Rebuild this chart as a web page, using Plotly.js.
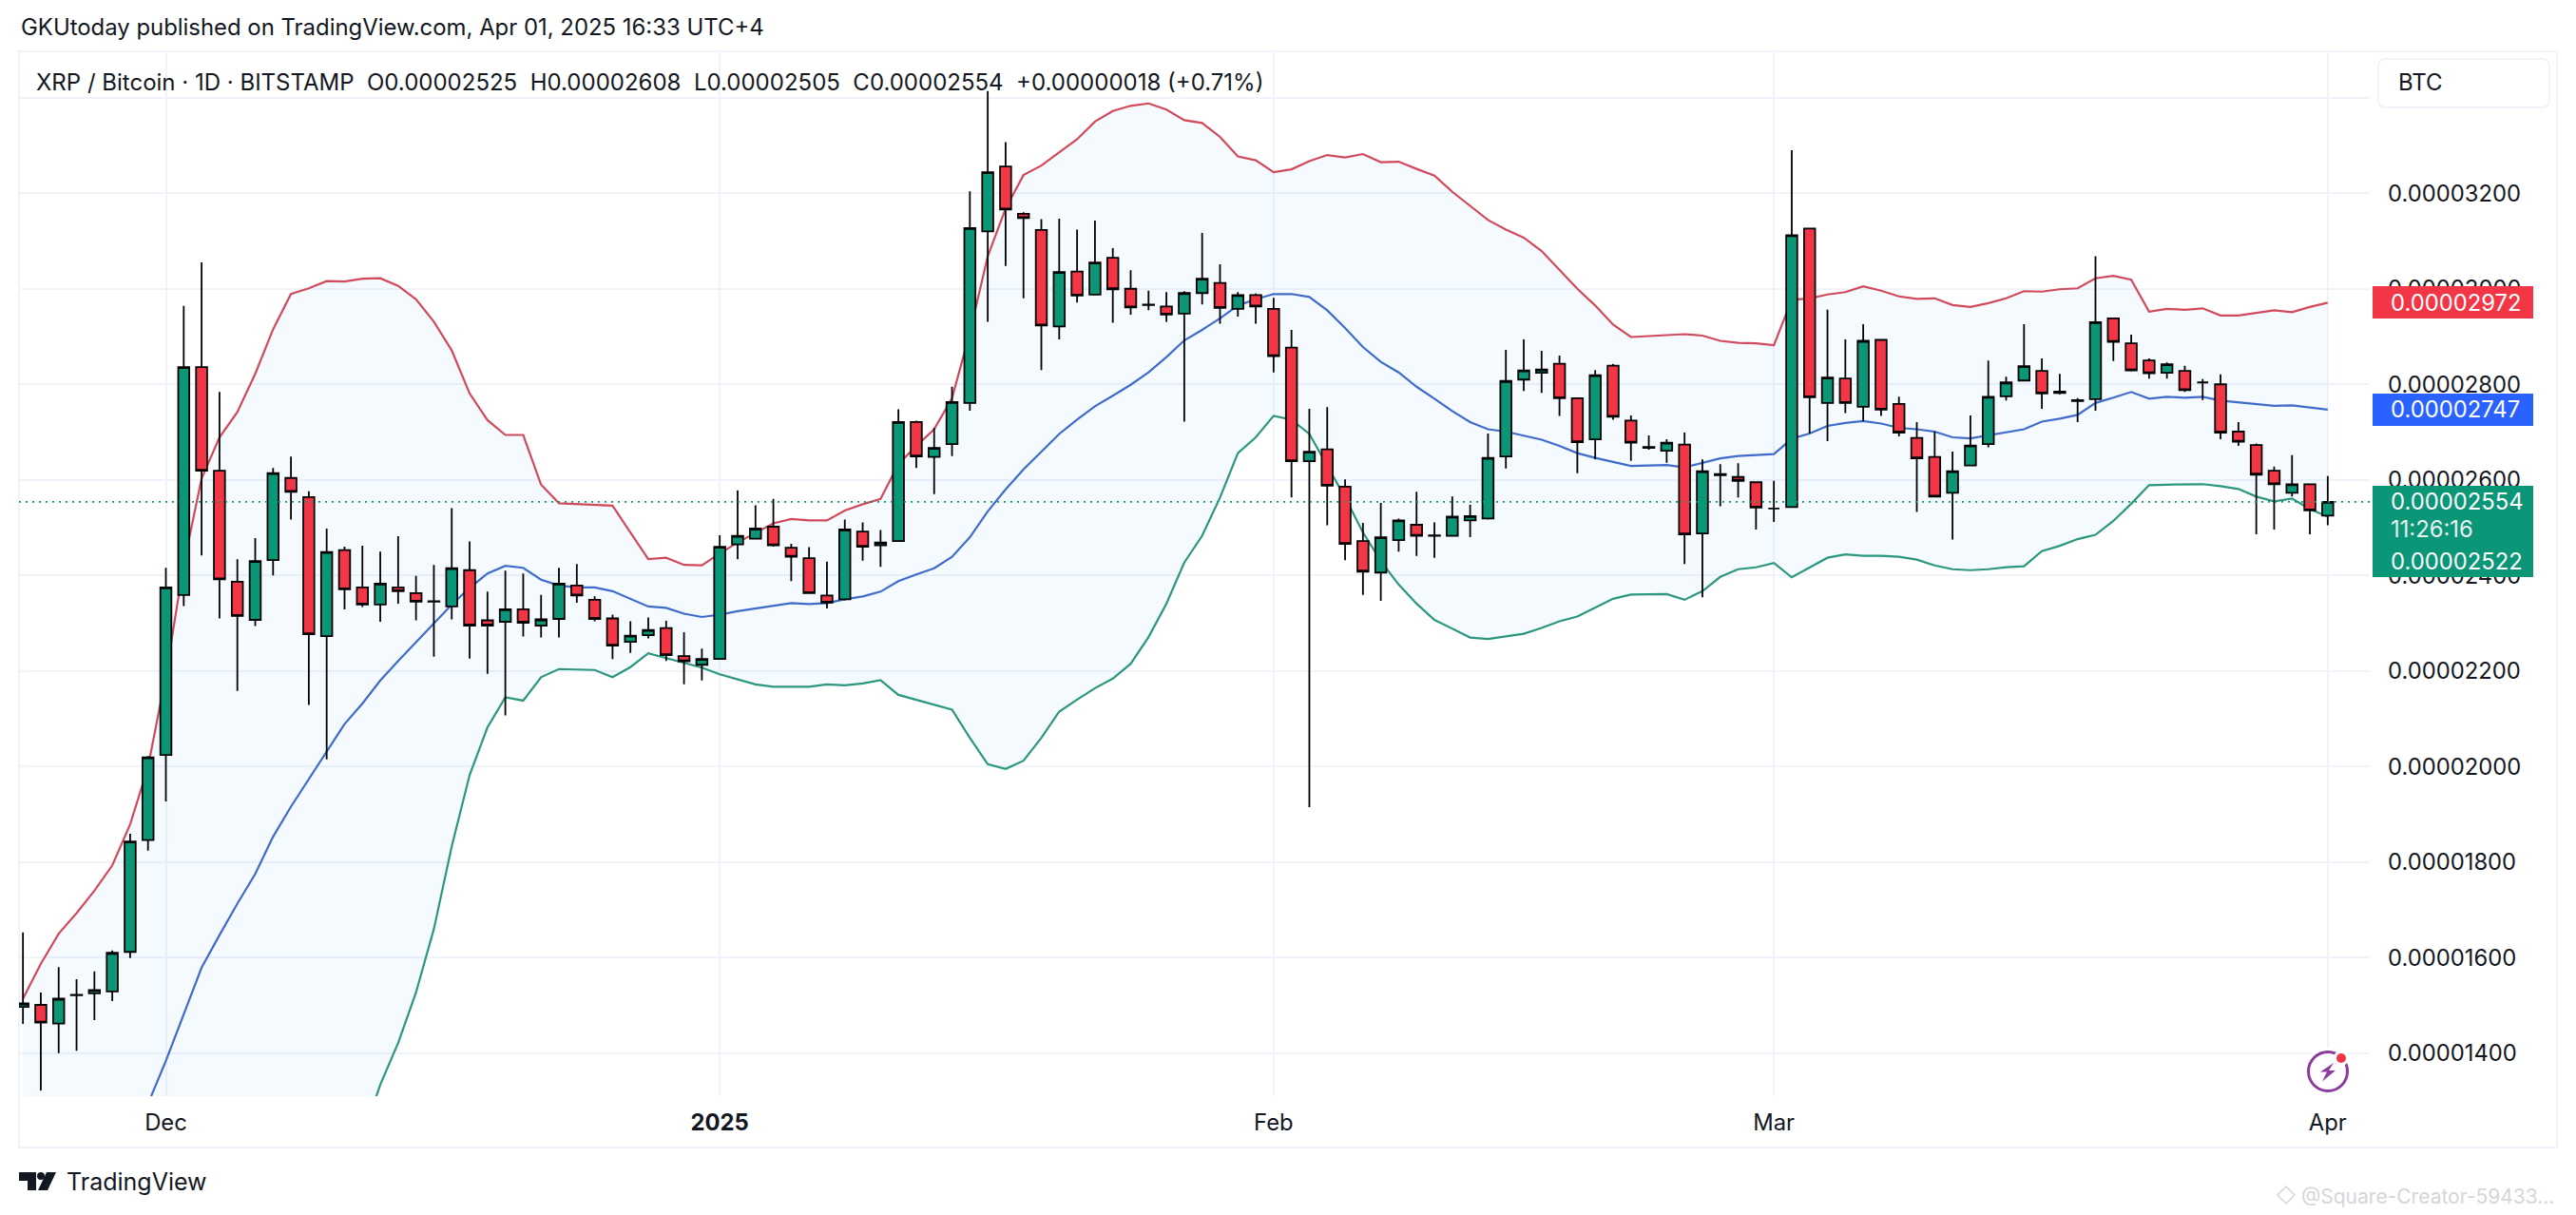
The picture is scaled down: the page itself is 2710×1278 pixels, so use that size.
<!DOCTYPE html>
<html>
<head>
<meta charset="utf-8">
<script src="https://cdn.plot.ly/plotly-3.0.1.min.js"></script>
<style>
  html, body { margin: 0; padding: 0; background: #fff; }
  #plot { width: 2710px; height: 1278px; }
</style>
</head>
<body>
<div id="plot"></div>
<script>
// XRP / Bitcoin daily candles, values in 1e-8 BTC
const dates = [
  "2024-11-23","2024-11-24","2024-11-25","2024-11-26","2024-11-27","2024-11-28","2024-11-29","2024-11-30",
  "2024-12-01","2024-12-02","2024-12-03","2024-12-04","2024-12-05","2024-12-06","2024-12-07","2024-12-08","2024-12-09","2024-12-10","2024-12-11","2024-12-12","2024-12-13","2024-12-14","2024-12-15","2024-12-16","2024-12-17","2024-12-18","2024-12-19","2024-12-20","2024-12-21","2024-12-22","2024-12-23","2024-12-24","2024-12-25","2024-12-26","2024-12-27","2024-12-28","2024-12-29","2024-12-30","2024-12-31",
  "2025-01-01","2025-01-02","2025-01-03","2025-01-04","2025-01-05","2025-01-06","2025-01-07","2025-01-08","2025-01-09","2025-01-10","2025-01-11","2025-01-12","2025-01-13","2025-01-14","2025-01-15","2025-01-16","2025-01-17","2025-01-18","2025-01-19","2025-01-20","2025-01-21","2025-01-22","2025-01-23","2025-01-24","2025-01-25","2025-01-26","2025-01-27","2025-01-28","2025-01-29","2025-01-30","2025-01-31",
  "2025-02-01","2025-02-02","2025-02-03","2025-02-04","2025-02-05","2025-02-06","2025-02-07","2025-02-08","2025-02-09","2025-02-10","2025-02-11","2025-02-12","2025-02-13","2025-02-14","2025-02-15","2025-02-16","2025-02-17","2025-02-18","2025-02-19","2025-02-20","2025-02-21","2025-02-22","2025-02-23","2025-02-24","2025-02-25","2025-02-26","2025-02-27","2025-02-28",
  "2025-03-01","2025-03-02","2025-03-03","2025-03-04","2025-03-05","2025-03-06","2025-03-07","2025-03-08","2025-03-09","2025-03-10","2025-03-11","2025-03-12","2025-03-13","2025-03-14","2025-03-15","2025-03-16","2025-03-17","2025-03-18","2025-03-19","2025-03-20","2025-03-21","2025-03-22","2025-03-23","2025-03-24","2025-03-25","2025-03-26","2025-03-27","2025-03-28","2025-03-29","2025-03-30","2025-03-31",
  "2025-04-01"
];

const opens = [
  1497,1501,1462,1521,1525,1529,1612,1846,
  2024,2359,2836,2619,2387,2307,2432,2604,2564,2273,2453,2375,2339,2375,2363,2345,2335,2411,2306,2303,2329,2295,2309,2379,2349,2310,2261,2275,2290,2231,2213,
  2225,2465,2477,2502,2458,2436,2358,2350,2492,2463,2472,2721,2648,2675,2761,3120,3256,3157,3123,2921,3036,2988,3065,3000,2967,2963,2948,2991,3012,2958,2987,
  2958,2877,2639,2664,2586,2472,2406,2474,2506,2483,2483,2515,2519,2649,2810,2824,2843,2771,2685,2839,2724,2669,2661,2674,2488,2610,2606,2595,
  2540,2543,3126,2761,2812,2753,2893,2759,2688,2648,2573,2630,2675,2775,2808,2828,2785,2765,2769,2938,2886,2850,2824,2828,2804,2800,2701,2673,2619,2573,2591,
  2525
];
const highs = [
  1653,1527,1580,1555,1571,1615,1859,2022,
  2416,2964,3055,2784,2434,2478,2625,2649,2576,2498,2460,2462,2450,2482,2399,2422,2541,2471,2366,2410,2404,2359,2416,2424,2356,2318,2304,2312,2305,2281,2247,
  2484,2578,2547,2560,2466,2459,2429,2517,2511,2495,2748,2724,2709,2795,3204,3414,3307,3160,3146,3147,3124,3143,3085,3039,2996,2993,2995,3117,3051,2993,2990,
  2981,2914,2749,2752,2601,2510,2552,2519,2575,2511,2565,2548,2697,2872,2894,2870,2860,2771,2830,2843,2735,2693,2685,2699,2643,2633,2635,2595,
  2598,3290,3126,2956,2894,2926,2893,2774,2721,2701,2659,2735,2850,2816,2926,2854,2822,2771,3068,2938,2904,2854,2846,2839,2811,2821,2721,2676,2628,2652,2591,
  2608
];
const lows = [
  1461,1322,1400,1405,1469,1509,1599,1824,
  1927,2336,2442,2310,2158,2294,2400,2517,2129,2015,2329,2334,2303,2341,2306,2230,2308,2226,2194,2107,2272,2270,2270,2343,2304,2225,2238,2268,2221,2172,2180,
  2225,2434,2477,2460,2388,2362,2331,2348,2431,2418,2472,2625,2570,2650,2745,2931,3048,2980,2830,2894,2971,2988,2929,2946,2955,2931,2722,2967,2927,2942,2927,
  2825,2563,1915,2505,2432,2359,2347,2450,2441,2437,2483,2480,2517,2624,2786,2782,2734,2614,2643,2726,2640,2663,2636,2424,2354,2545,2563,2496,
  2512,2542,2697,2681,2740,2723,2734,2691,2533,2563,2475,2630,2668,2766,2808,2749,2779,2721,2745,2849,2827,2812,2812,2784,2767,2685,2671,2486,2496,2565,2486,
  2505
];
const closes = [
  1504,1464,1514,1522,1532,1610,1843,2019,
  2375,2836,2619,2392,2315,2430,2614,2575,2277,2449,2371,2339,2383,2367,2345,2346,2415,2295,2295,2329,2301,2308,2383,2358,2309,2253,2274,2286,2233,2220,2225,
  2460,2483,2498,2463,2439,2363,2343,2496,2460,2469,2721,2649,2667,2763,3127,3244,3166,3148,2923,3035,2986,3055,2999,2961,2966,2946,2991,3021,2960,2987,2963,
  2859,2639,2659,2588,2466,2408,2480,2515,2483,2484,2523,2524,2646,2807,2829,2831,2771,2679,2819,2732,2678,2667,2678,2486,2618,2612,2598,2542,
  2540,3112,2773,2814,2761,2891,2747,2699,2645,2565,2618,2672,2774,2804,2838,2781,2782,2767,2930,2889,2829,2823,2842,2788,2804,2699,2680,2611,2591,2591,2536,
  2554
];

// Bollinger bands (the first points of basis and lower run below the visible range)
const bandUpper = [
  1514,1587,1650,1693,1740,1793,1879,1999,
  2190,2424,2603,2689,2742,2822,2915,2989,3001,3016,3015,3021,3022,3006,2978,2931,2871,2781,2725,2694,2694,2590,2551,2549,2548,2546,2490,2434,2437,2422,2421,
  2446,2469,2489,2509,2518,2515,2515,2536,2549,2560,2633,2671,2706,2771,2908,3068,3168,3238,3258,3285,3313,3350,3372,3383,3388,3375,3353,3347,3318,3277,3269,
  3244,3250,3267,3280,3275,3282,3265,3266,3251,3237,3203,3174,3144,3124,3107,3079,3040,3000,2965,2925,2899,2901,2903,2905,2902,2891,2887,2886,
  2882,2977,2980,2988,2993,3005,2996,2984,2979,2980,2966,2962,2970,2980,2995,2994,2999,3001,3022,3027,3019,2952,2958,2956,2959,2944,2944,2950,2955,2951,2962,
  2971
];
const bandBasis = [
  1115,1130,1145,1160,1180,1205,1240,1294,
  1384,1481,1579,1647,1713,1775,1853,1916,1974,2032,2089,2132,2180,2221,2261,2301,2339,2374,2404,2420,2416,2391,2379,2375,2375,2367,2351,2335,2332,2320,2313,
  2318,2325,2331,2337,2342,2340,2342,2350,2356,2366,2388,2402,2415,2439,2480,2534,2580,2622,2660,2696,2726,2754,2776,2799,2825,2857,2892,2914,2938,2965,2978,
  2989,2989,2983,2955,2918,2878,2847,2825,2795,2770,2744,2721,2706,2701,2693,2684,2671,2656,2646,2637,2629,2630,2631,2626,2635,2645,2650,2652,
  2654,2686,2697,2713,2719,2723,2718,2709,2706,2701,2689,2687,2693,2699,2706,2722,2728,2736,2761,2772,2784,2770,2774,2772,2774,2766,2762,2758,2755,2756,2752,
  2747
];
const bandLower = [
  380,320,270,240,220,200,190,210,
  260,380,480,600,720,830,930,1020,1080,1130,1180,1225,1334,1421,1527,1660,1833,1982,2082,2145,2138,2187,2204,2203,2202,2187,2208,2237,2227,2218,2207,
  2193,2182,2172,2167,2167,2167,2172,2170,2174,2181,2150,2140,2129,2119,2060,2005,1995,2012,2060,2115,2140,2164,2184,2215,2271,2341,2427,2483,2563,2656,2689,
  2734,2726,2696,2630,2563,2490,2430,2381,2341,2307,2288,2270,2267,2273,2278,2290,2304,2314,2332,2351,2360,2360,2361,2349,2367,2397,2413,2417,
  2426,2396,2417,2437,2444,2441,2441,2439,2433,2421,2413,2411,2413,2417,2419,2451,2462,2476,2485,2514,2550,2589,2590,2590,2591,2587,2581,2565,2555,2561,2539,
  2523
];

const xTickVals = ["2024-12-01", "2025-01-01", "2025-02-01", "2025-03-01", "2025-04-01"];
const xTickText = ["Dec", "<b>2025</b>", "Feb", "Mar", "Apr"];
const yTickLabels = ["0.00001400","0.00001600","0.00001800","0.00002000","0.00002200","0.00002400","0.00002600","0.00002800","0.00003000","0.00003200","0.00003400"];
const headerText = "GKUtoday published on TradingView.com, Apr 01, 2025 16:33 UTC+4";
const legendText = "XRP / Bitcoin · 1D · BITSTAMP&#160;&#160;O0.00002525&#160;&#160;H0.00002608&#160;&#160;L0.00002505&#160;&#160;C0.00002554&#160;&#160;+0.00000018 (+0.71%)";

const toBtc = arr => arr.map(v => v * 1e-8);

const FONT = "Inter, 'Noto Sans', sans-serif";
const INK = "#131722";
const GRID = "#f0f3fa";
const UP = "#0b9678";
const DOWN = "#f23645";

// plot box in page pixels, helpers for the furniture around it
const L = 20, R = 2493, T = 54, B = 1153;
const px = x => (x - L) / (R - L);
const py = y => (B - y) / (B - T);
const xRange = ["2024-11-22 18:43", "2025-04-03 08:24"];
const yRange = [1310e-8, 3497e-8];

const text = (x, y, str, size, opts) => Object.assign({
  xref: "paper", yref: "paper", x: px(x), y: py(y), text: str, showarrow: false,
  xanchor: "left", yanchor: "middle", font: { family: FONT, size: size, color: INK }
}, opts || {});

const box = (x0, y0, x1, y1, extra) => Object.assign({
  type: "rect", xref: "paper", yref: "paper",
  x0: px(x0), x1: px(x1), y0: py(y0), y1: py(y1), line: { width: 0 }
}, extra || {});

const polygon = (pts, color) => ({
  type: "path", xref: "paper", yref: "paper",
  path: "M" + pts.map(p => px(p[0]) + "," + py(p[1])).join("L") + "Z",
  fillcolor: color, line: { width: 0 }
});

const traces = [
  { x: dates, y: toBtc(bandUpper), type: "scatter", mode: "lines", line: { color: "#d14a5c", width: 2.2 }, hoverinfo: "skip" },
  { x: dates, y: toBtc(bandLower), type: "scatter", mode: "lines", line: { color: "#2b977f", width: 2.2 },
    fill: "tonexty", fillcolor: "rgba(33,150,243,0.045)", hoverinfo: "skip" },
  { x: dates, y: toBtc(bandBasis), type: "scatter", mode: "lines", line: { color: "#3f6ccb", width: 2.2 }, hoverinfo: "skip" },
  // second axis pair so the candles sit on top of the bands
  { x: dates, open: toBtc(opens), high: toBtc(highs), low: toBtc(lows), close: toBtc(closes),
    type: "candlestick", xaxis: "x2", yaxis: "y2", whiskerwidth: 0,
    increasing: { line: { color: "#000", width: 1.8 }, fillcolor: UP },
    decreasing: { line: { color: "#000", width: 1.8 }, fillcolor: DOWN } }
];

const shapes = [
  box(20, 54, 2690, 1207, { line: { color: GRID, width: 2 }, layer: "below" }),
  // last price dotted line
  { type: "line", xref: "paper", yref: "y2", x0: 0, x1: 1, y0: 2554e-8, y1: 2554e-8,
    line: { color: UP, width: 1.8, dash: "2px,5px" } },
  // price tags
  box(2496, 301, 2665, 335, { fillcolor: DOWN }),
  box(2496, 414, 2665, 448, { fillcolor: "#2962ff" }),
  box(2496, 511, 2665, 607, { fillcolor: UP }),
  // BTC button
  { type: "path", xref: "paper", yref: "paper", line: { color: GRID, width: 2 }, fillcolor: "#fff",
    path: "M" + px(2510) + "," + py(62) + "L" + px(2674) + "," + py(62) +
      "Q" + px(2682) + "," + py(62) + " " + px(2682) + "," + py(70) + "L" + px(2682) + "," + py(105) +
      "Q" + px(2682) + "," + py(113) + " " + px(2674) + "," + py(113) + "L" + px(2510) + "," + py(113) +
      "Q" + px(2502) + "," + py(113) + " " + px(2502) + "," + py(105) + "L" + px(2502) + "," + py(70) +
      "Q" + px(2502) + "," + py(62) + " " + px(2510) + "," + py(62) + "Z" },
  // lightning badge
  { type: "circle", xref: "paper", yref: "paper", x0: px(2424), x1: px(2474), y0: py(1102), y1: py(1152), fillcolor: "#fff", line: { width: 0 } },
  { type: "circle", xref: "paper", yref: "paper", x0: px(2428.5), x1: px(2469.5), y0: py(1106.5), y1: py(1147.5), line: { color: "#8b3a9e", width: 3 } },
  polygon([[2455,1118],[2441,1127.5],[2448,1127.5],[2443,1137.5],[2457,1126],[2450,1126]], "#8b3a9e"),
  { type: "circle", xref: "paper", yref: "paper", x0: px(2455), x1: px(2471), y0: py(1105), y1: py(1121), fillcolor: "#fff", line: { width: 0 } },
  { type: "circle", xref: "paper", yref: "paper", x0: px(2458), x1: px(2468), y0: py(1108), y1: py(1118), fillcolor: DOWN, line: { width: 0 } },
  // TradingView logo
  polygon([[20,1233],[38,1233],[38,1252],[29,1252],[29,1242],[20,1242]], "#131722"),
  { type: "circle", xref: "paper", yref: "paper", x0: px(39), x1: px(47), y0: py(1233), y1: py(1241), fillcolor: "#131722", line: { width: 0 } },
  polygon([[49,1233],[59,1233],[50,1252],[40,1252]], "#131722"),
  // small mark in front of the watermark
  { type: "path", xref: "paper", yref: "paper", line: { color: "#d3d6da", width: 1.5 },
    path: "M" + px(2396) + "," + py(1257) + "L" + px(2405) + "," + py(1248) + "L" + px(2414) + "," + py(1257) + "L" + px(2405) + "," + py(1266) + "Z" }
];

const annotations = [
  text(20, 29, headerText, 23.9),
  text(36, 86, legendText, 24),
  text(2521, 87, "BTC", 24),
  text(2513, 318, "0.00002972", 23.8, { font: { family: FONT, size: 23.8, color: "#fff" } }),
  text(2513, 431, "0.00002747", 23.8, { font: { family: FONT, size: 23.8, color: "#fff" } }),
  text(2513, 527, "0.00002554", 23.8, { font: { family: FONT, size: 23.8, color: "#fff" } }),
  text(2513, 556, "11:26:16", 23.8, { font: { family: FONT, size: 23.8, color: "#e6f4f1" } }),
  text(2513, 590, "0.00002522", 23.8, { font: { family: FONT, size: 23.8, color: "#fff" } }),
  text(68, 1243, "TradingView", 25),
  text(2419, 1258, "@Square-Creator-59433...", 21, { font: { family: FONT, size: 21, color: "#d3d6da" } })
];

const layout = {
  width: 2710,
  height: 1278,
  margin: { l: L, r: 2710 - R, t: T, b: 1278 - B, pad: 0 },
  paper_bgcolor: "#fff",
  plot_bgcolor: "#fff",
  showlegend: false,
  font: { family: FONT, size: 23.8, color: INK },
  xaxis: {
    type: "date", range: xRange, tickmode: "array", tickvals: xTickVals, ticktext: xTickText,
    showgrid: true, gridcolor: GRID, gridwidth: 1.6, zeroline: false, showline: false, ticks: "",
    ticklabelstandoff: 11, tickangle: 0, tickfont: { family: FONT, size: 23.8, color: INK }, fixedrange: true
  },
  yaxis: {
    range: yRange, side: "right", tickmode: "array",
    tickvals: yTickLabels.map(Number),
    ticktext: yTickLabels.map((s, i) => i === yTickLabels.length - 1 ? " " : s),
    showgrid: true, gridcolor: GRID, gridwidth: 1.6, zeroline: false, showline: false, ticks: "",
    ticklabelstandoff: 18, tickfont: { family: FONT, size: 23.8, color: INK }, fixedrange: true
  },
  xaxis2: { type: "date", range: xRange, overlaying: "x", visible: false, rangeslider: { visible: false }, fixedrange: true },
  yaxis2: { range: yRange, overlaying: "y", side: "right", visible: false, fixedrange: true },
  boxgap: 0.38,
  boxgroupgap: 0,
  shapes: shapes,
  annotations: annotations
};

Plotly.newPlot("plot", traces, layout, { displayModeBar: false, responsive: false });
</script>
</body>
</html>
